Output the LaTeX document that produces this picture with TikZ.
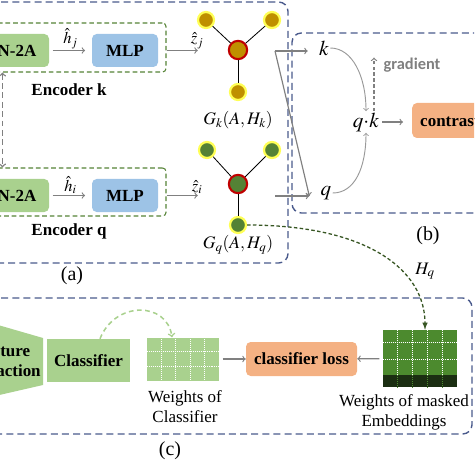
\documentclass[tikz,border=0pt]{standalone}
\usepackage{mathptmx}
\usepackage{fontspec}
\setmainfont{Liberation Serif}
\newfontfamily\gradfont{Carlito}
\usetikzlibrary{calc}

\definecolor{regionblue}{HTML}{4A5A8C}
\definecolor{framegreen}{HTML}{548235}
\definecolor{boxgreen}{HTML}{A9D18E}
\definecolor{boxblue}{HTML}{9DC3E6}
\definecolor{lossorange}{HTML}{F4B183}
\definecolor{goldnode}{HTML}{BF9000}
\definecolor{glow}{HTML}{FFFF55}
\definecolor{hubred}{HTML}{C00000}
\definecolor{nodegreen}{HTML}{548235}
\definecolor{hqgreen}{HTML}{375623}
\definecolor{embgreen}{HTML}{4C8A2E}
\definecolor{embdark}{HTML}{1B2E12}
\definecolor{arrowgray}{HTML}{808080}

\begin{document}
\begin{tikzpicture}[
    x=0.3mm, y=-0.3mm,
    region/.style={draw=regionblue, line width=1.2pt, dash pattern=on 6pt off 3.5pt, rounded corners=8pt},
    encframe/.style={draw=framegreen, line width=0.9pt, dash pattern=on 4pt off 2.5pt, rounded corners=3pt, minimum width=55.8mm, minimum height=14.7mm},
    block/.style={rectangle, rounded corners=4pt, minimum height=9.9mm, font=\fontsize{14.5}{16}\selectfont\bfseries},
    lossbox/.style={rectangle, rounded corners=4pt, fill=lossorange, font=\fontsize{14.5}{16}\selectfont\bfseries},
    leaf/.style={circle, inner sep=0pt, minimum size=4.8mm, draw=glow, line width=1.9pt},
    hub/.style={circle, inner sep=0pt, minimum size=5.5mm, draw=hubred, line width=1.8pt},
    link/.style={black, line width=0.7pt},
    flow/.style={->, draw=arrowgray, line width=1pt},
    sym/.style={inner sep=1pt, font=\fontsize{18}{20}\selectfont},
    glabel/.style={inner sep=1pt, font=\fontsize{15}{17}\selectfont},
    caption/.style={font=\fontsize{14.5}{17}\selectfont, align=center},
    tag/.style={font=\fontsize{17}{19}\selectfont},
    gridline/.style={white, densely dotted, line width=0.7pt}
]
\useasboundingbox (0,0) rectangle (474,474);
\clip (0,0) rectangle (474,474);

% Dashed regions (a), (b), (c)
\draw[region] (-10,2) -- (288,2) -- (288,263) -- (-10,263);
\draw[region] (480,33) -- (292,33) -- (292,213) -- (480,213);
\draw[region] (-10,298) -- (472,298) -- (472,434) -- (-10,434);

\node[tag] (taga) at (72,276) {(a)};
\node[tag] (tagb) at (428,236) {(b)};
\node[tag] (tagc) at (170,451) {(c)};

% Encoder k
\node[encframe] (enck) at (73,47.5) {};
\node[block, fill=boxgreen, minimum width=19.2mm] (gnnk) at (17,50.5) {N-2A};
\node[block, fill=boxblue, minimum width=19.8mm] (mlpk) at (125,50.5) {MLP};
\node[caption, font=\fontsize{14.5}{17}\selectfont\bfseries] (labk) at (69,90) {Encoder k};

% Encoder q
\node[encframe, minimum height=14.4mm] (encq) at (73,192) {};
\node[block, fill=boxgreen, minimum width=19.2mm] (gnnq) at (17,195.5) {N-2A};
\node[block, fill=boxblue, minimum width=19.8mm] (mlpq) at (125,195.5) {MLP};
\node[caption, font=\fontsize{14.5}{17}\selectfont\bfseries] (labq) at (69,231) {Encoder q};

% Arrows inside the encoders
\draw[flow, shorten <=1mm, shorten >=2mm] (gnnk) -- node[above, inner sep=1pt, font=\fontsize{14}{16}\selectfont] {$\hat{h}_j$} (mlpk);
\draw[flow, shorten <=1mm, shorten >=2mm] (gnnq) -- node[above, inner sep=1pt, font=\fontsize{14}{16}\selectfont] {$\hat{h}_i$} (mlpq);

% Shared weights between the encoders
\draw[<->, draw=arrowgray, line width=1.2pt, dash pattern=on 5pt off 3pt] ([xshift=6.9mm]enck.south west) -- ([xshift=6.9mm]encq.north west);

% Graph G_k
\node[hub, fill=goldnode] (hubk) at (238,50) {};
\node[leaf, fill=goldnode] (k1) at (206,20) {};
\node[leaf, fill=goldnode] (k2) at (272,20) {};
\node[leaf, fill=goldnode] (k3) at (238,92) {};
\draw[link] (hubk) -- (k1);
\draw[link] (hubk) -- (k2);
\draw[link] (hubk) -- (k3);
\node[glabel] (gklab) at (238,120) {$G_k(A,H_k)$};

% Graph G_q
\node[hub, fill=nodegreen] (hubq) at (238,184) {};
\node[leaf, fill=nodegreen] (q1) at (207,150) {};
\node[leaf, fill=nodegreen] (q2) at (272,150) {};
\node[leaf, fill=nodegreen] (q3) at (238,225) {};
\draw[link] (hubq) -- (q1);
\draw[link] (hubq) -- (q2);
\draw[link] (hubq) -- (q3);
\node[glabel] (gqlab) at (238,245) {$G_q(A,H_q)$};

\draw[flow, shorten >=9mm] (mlpk -| enck.east) -- node[above, inner sep=1pt, font=\fontsize{14}{16}\selectfont] {$\hat{z}_j$} (mlpk -| hubk.west);
\draw[flow, shorten >=9mm] (mlpq -| encq.east) -- node[above, inner sep=1pt, font=\fontsize{14}{16}\selectfont] {$\hat{z}_i$} (mlpq -| hubq.west);

% Contrast part (b)
\node[sym] (k) at (324,48) {$k$};
\node[sym] (q) at (326,193) {$q$};
\node[sym] (qk) at (366,122) {$q{\cdot}k$};
\node[inner sep=0pt, text=arrowgray, font=\gradfont\bfseries\fontsize{14}{16}\selectfont] (grad) at (412,65) {gradient};
\node[lossbox, anchor=west, minimum height=10.5mm, inner xsep=2.4mm] (closs) at (412,120.5) {contrastive loss};

\coordinate (kfork) at (275,51);
\coordinate (qfork) at (275,196);
\coordinate (kend) at ($(kfork -| k.west)+(-10,0)$);
\coordinate (qend) at ($(qfork -| q.west)+(-10,0)$);
\draw[flow] (kfork) -- (kend);
\draw[flow] (qfork) -- (qend);
\draw[flow] (kfork) -- (qend);

\draw[flow, line width=0.8pt, draw=arrowgray!80] (k.east) .. controls +(22,0) and +(0,-35) .. (qk.north);
\draw[flow, line width=0.8pt, draw=arrowgray!80] (q.east) .. controls +(22,0) and +(0,35) .. (qk.south);
\coordinate (gbase) at ([xshift=2.4mm]qk.north);
\draw[flow, dash pattern=on 3pt off 2pt] (gbase) -- (gbase |- grad.north);
\draw[flow, shorten <=0.5mm, shorten >=2.7mm] (qk) -- (qk -| closs.west);

% Classifier part (c)
\fill[boxgreen] (-40,314) -- (43,338) -- (43,385) -- (-40,404) -- cycle;
\node[caption, font=\fontsize{14.5}{17}\selectfont\bfseries] (fe) at (2,361) {Feature\\Extraction};
\node[block, fill=boxgreen, minimum width=24.9mm, minimum height=12.9mm, rounded corners=0pt] (cls) at (88.5,360.5) {Classifier};

\node[fill=boxgreen, minimum width=21.6mm, minimum height=12.9mm, inner sep=0pt] (wc) at (183,359) {};
\foreach \f in {0.2,0.4,0.6,0.8}
    \draw[gridline] ($(wc.north west)!\f!(wc.north east)$) -- ($(wc.south west)!\f!(wc.south east)$);
\foreach \f in {0.333,0.667}
    \draw[gridline] ($(wc.north west)!\f!(wc.south west)$) -- ($(wc.north east)!\f!(wc.south east)$);
\node[caption] (wclab) at (185,407) {Weights of\\Classifier};

\node[lossbox, minimum width=33.3mm, minimum height=10.2mm] (lossc) at (301.5,359) {classifier loss};

\node[fill=embgreen, minimum width=22.2mm, minimum height=17.1mm, inner sep=0pt] (we) at (420,358.5) {};
\fill[embdark] (we.south west) rectangle ([yshift=3.6mm]we.south east);
\foreach \f in {0.2,0.4,0.6,0.8} {
    \draw[gridline] ($(we.north west)!\f!(we.north east)$) -- ($(we.south west)!\f!(we.south east)+(0,-12)$);
    \draw[embgreen, densely dotted, line width=0.7pt] ($(we.south west)!\f!(we.south east)+(0,-12)$) -- ($(we.south west)!\f!(we.south east)$);
}
\foreach \f in {0.228,0.509}
    \draw[gridline] ($(we.north west)!\f!(we.south west)$) -- ($(we.north east)!\f!(we.south east)$);
\node[caption] (welab) at (404,412) {Weights of masked\\Embeddings};

\draw[flow, shorten <=1mm] (wc) -- (lossc);
\draw[flow, shorten <=1mm] (we) -- (lossc);
\draw[->, draw=boxgreen, line width=1.3pt, dash pattern=on 4pt off 3pt] ([xshift=3.45mm]cls.north) .. controls +(15,-38) and +(-5,-36) .. ([xshift=-3.3mm]wc.north);

% Masked embeddings H_q
\draw[-latex, draw=hqgreen, line width=1.1pt, dash pattern=on 3pt off 2pt] (q3.east) .. controls +(120,0) and +(0,-60) .. ([xshift=1.5mm]we.north);
\node[glabel] (hq) at (425,271) {$H_q$};

\end{tikzpicture}
\end{document}
